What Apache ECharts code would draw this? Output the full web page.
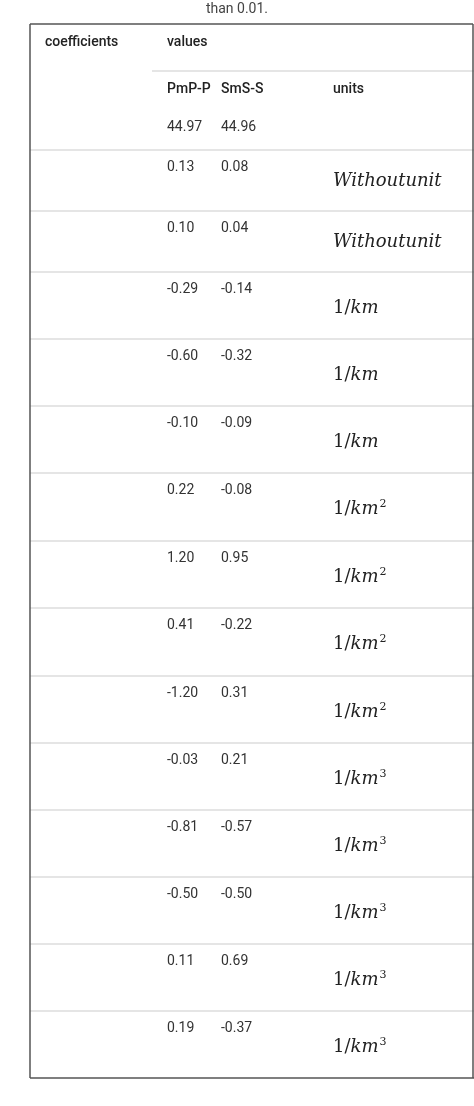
<!DOCTYPE html>
<html>
<head>
<meta charset="utf-8">
<script src="https://cdn.jsdelivr.net/npm/echarts@6/dist/echarts.min.js"></script>
<style>html,body{margin:0;padding:0;background:#fff}</style>
</head>
<body>
<div id="main" style="width:474px;height:1106px"></div>
<script>
// table data
var pmp = ['44.97', '0.13', '0.10', '-0.29', '-0.60', '-0.10', '0.22', '1.20', '0.41', '-1.20', '-0.03', '-0.81', '-0.50', '0.11', '0.19'];
var sms = ['44.96', '0.08', '0.04', '-0.14', '-0.32', '-0.09', '-0.08', '0.95', '-0.22', '0.31', '0.21', '-0.57', '-0.50', '0.69', '-0.37'];
var unitBase = ['', 'Withoutunit', 'Withoutunit', '1/km', '1/km', '1/km', '1/km', '1/km', '1/km', '1/km', '1/km', '1/km', '1/km', '1/km', '1/km'];
var unitPow = ['', '', '', '', '', '', '2', '2', '2', '2', '3', '3', '3', '3', '3'];
var rowLines = [110, 150, 211, 272, 339, 406, 473, 541, 608, 676, 743, 810, 877, 944, 1011, 1078];

var chart = echarts.init(document.getElementById('main'));
var els = [];
var sans = 'Roboto, sans-serif';
var serif = '"DejaVu Serif", serif';

function txt(x, y, s, opt) {
    els.push({ type: 'text', x: x, y: y, style: Object.assign({ text: s, font: '14px ' + sans, fill: '#333' }, opt || {}) });
}
function line(x1, y1, x2, y2, c, w) {
    els.push({ type: 'line', shape: { x1: x1, y1: y1, x2: x2, y2: y2 }, style: { stroke: c, lineWidth: w } });
}

txt(237, 2, 'than 0.01.', { textAlign: 'center', fill: '#444', font: '14px ' + sans });

// header
txt(45, 35, 'coefficients', { font: '500 14px ' + sans, fill: '#222' });
txt(167, 35, 'values', { font: '500 14px ' + sans, fill: '#222' });
line(152, 71, 474, 71, '#ddd', 1.5);
txt(167, 82, 'PmP-P', { font: '500 14px ' + sans, fill: '#222' });
txt(221, 82, 'SmS-S', { font: '500 14px ' + sans, fill: '#222' });
txt(333, 82, 'units', { font: '500 14px ' + sans, fill: '#222' });

for (var i = 0; i < pmp.length; i++) {
    var rowTop = rowLines[i];
    if (i > 0) line(30, rowTop, 474, rowTop, '#ddd', 1.5);
    txt(167, rowTop + 10, pmp[i]);
    txt(221, rowTop + 10, sms[i]);
    if (unitBase[i]) {
        var isW = unitBase[i] === 'Withoutunit';
        els.push({
            type: 'text', x: 333, y: rowTop + (isW ? 22 : 26),
            style: {
                text: isW ? '{it|Withoutunit}' : '{n|1/}{it|km}{sup|' + unitPow[i] + '}',
                rich: {
                    n: { font: '18px ' + serif, fill: '#222' },
                    it: { font: 'italic 18px ' + serif, fill: '#222' },
                    sup: { font: '11px ' + serif, fill: '#222', verticalAlign: 'top', padding: [0, 0, 10, 1] }
                }
            }
        });
    }
}
line(30, 1078, 474, 1078, '#555', 1.5);
// outer borders
line(30, 24, 473, 24, '#555', 1.5);
line(30, 24, 30, 1078, '#555', 1.5);
line(473, 24, 473, 1078, '#555', 1.5);

chart.setOption({ graphic: { elements: els } });
</script>
</body>
</html>
